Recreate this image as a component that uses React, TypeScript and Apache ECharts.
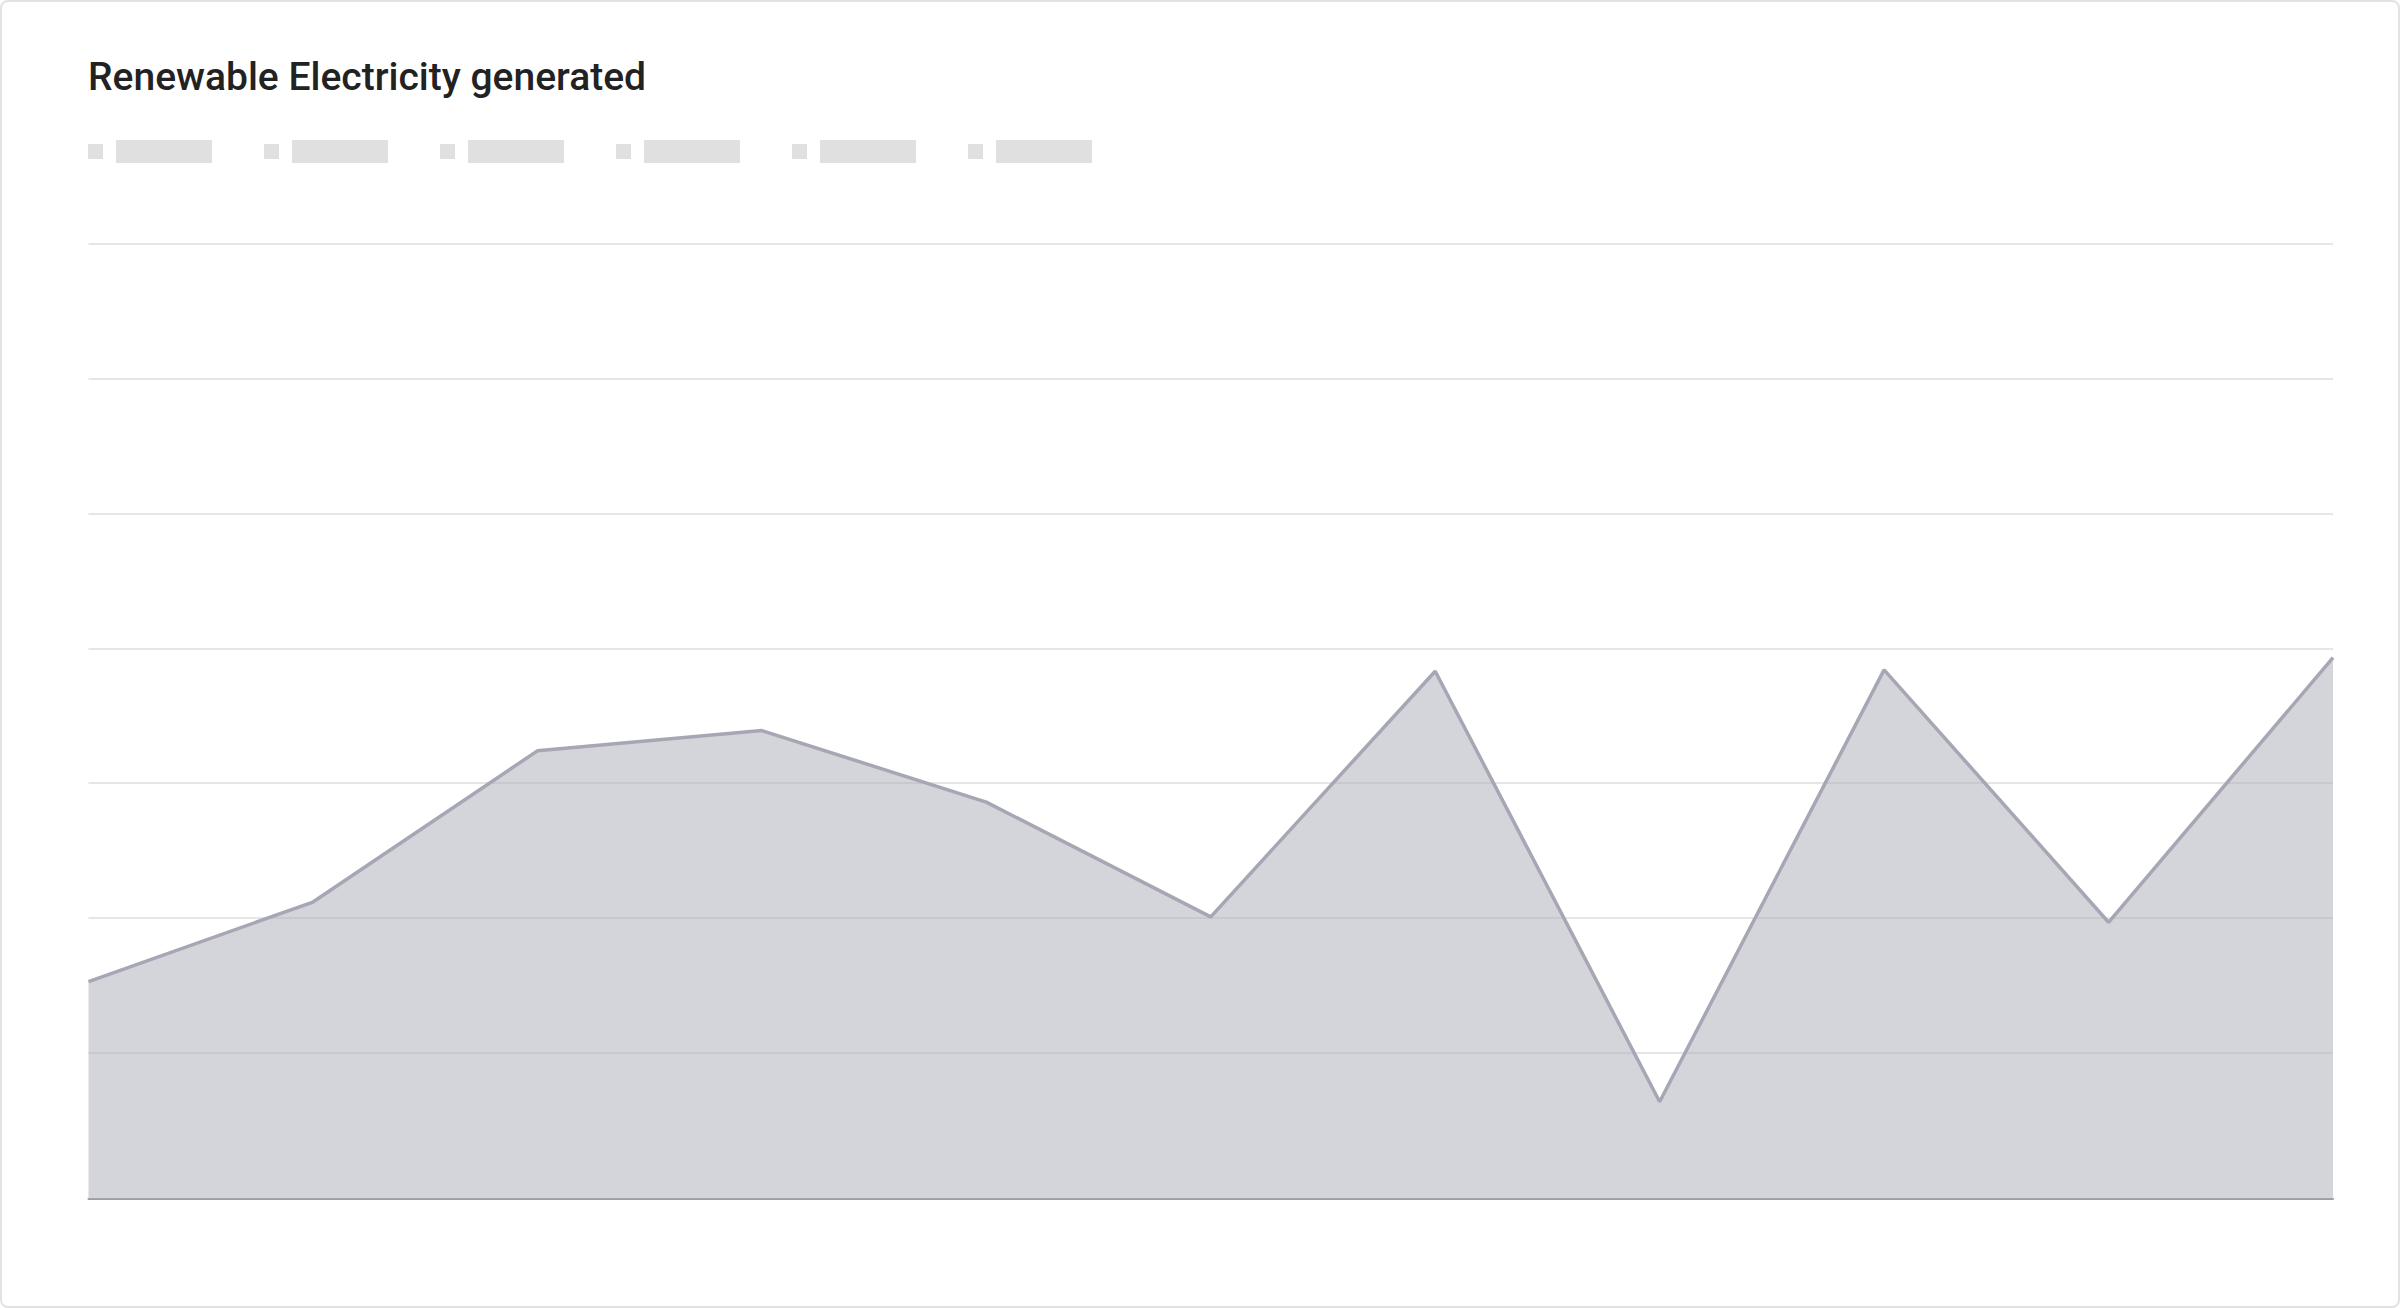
import React, { useEffect, useRef } from 'react';
import * as echarts from 'echarts';

// 标题与图例占位
const chartTitle = 'Renewable Electricity generated';
const legendSlots = 6;

// 横轴类目（图中未显示标签）
const categories = ['2010', '2011', '2012', '2013', '2014', '2015', '2016', '2017', '2018', '2019', '2020'];

// 发电量数据
const generated = [15.3, 21.2, 32.4, 33.9, 28.6, 20.1, 38.3, 6.4, 38.4, 19.7, 39.3];

// 纵轴范围
const yMin = -0.8;
const yMax = 70;

const App = () => {
    const chartRef = useRef(null);

    useEffect(() => {
        const myChart = echarts.init(chartRef.current, null, { renderer: 'svg' });

        // 图例占位块
        const legendGraphics: any[] = [];
        for (let i = 0; i < legendSlots; i++) {
            const x0 = 88 + i * 176;
            legendGraphics.push({
                type: 'rect',
                shape: { x: x0, y: 144, width: 15, height: 15 },
                style: { fill: '#e0e0e0' },
            });
            legendGraphics.push({
                type: 'rect',
                shape: { x: x0 + 28, y: 140, width: 96, height: 23 },
                style: { fill: '#e0e0e0' },
            });
        }

        const option = {
            animation: false,
            title: {
                text: chartTitle,
                left: 88,
                top: 57,
                padding: 0,
                textStyle: {
                    fontFamily: 'Roboto',
                    fontWeight: 500,
                    fontSize: 39,
                    color: '#222222',
                },
            },
            graphic: legendGraphics,
            grid: {
                left: 88.5,
                right: 67,
                top: 243.3,
                bottom: 109,
            },
            xAxis: {
                type: 'category',
                data: categories,
                boundaryGap: false,
                axisLine: { show: true, onZero: false, lineStyle: { color: '#9e9e9e', width: 2 } },
                axisTick: { show: false },
                axisLabel: { show: false },
                splitLine: { show: false },
            },
            yAxis: {
                type: 'value',
                min: yMin,
                max: yMax,
                splitNumber: 7,
                axisLine: { show: false },
                axisTick: { show: false },
                axisLabel: { show: false },
                splitLine: {
                    show: true,
                    lineStyle: {
                        // 前两条（最小值与 0）不显示
                        color: ['transparent', 'transparent', '#dedede', '#dedede', '#dedede', '#dedede', '#dedede', '#dedede', '#dedede'],
                        width: 1.5,
                    },
                },
            },
            series: [
                {
                    type: 'line',
                    data: generated,
                    showSymbol: false,
                    symbol: 'none',
                    lineStyle: { color: '#a6a6b5', width: 3.5 },
                    areaStyle: { color: '#a9a9b8', opacity: 0.5, origin: 'start' },
                    z: 1,
                },
            ],
        };

        myChart.setOption(option);

        return () => {
            myChart.dispose();
        };
    }, []);

    return (
        <div style={{ position: 'fixed', left: 0, top: 0, width: 2400, height: 1308, background: '#ffffff' }}>
            <div ref={chartRef} style={{ position: 'absolute', left: 0, top: 0, width: 2400, height: 1308 }} />
            <div
                style={{
                    position: 'absolute',
                    left: 0,
                    top: 0,
                    width: 2400,
                    height: 1308,
                    boxSizing: 'border-box',
                    border: '2px solid #e2e2e2',
                    borderRadius: 8,
                    pointerEvents: 'none',
                }}
            />
        </div>
    );
};

export default App;
